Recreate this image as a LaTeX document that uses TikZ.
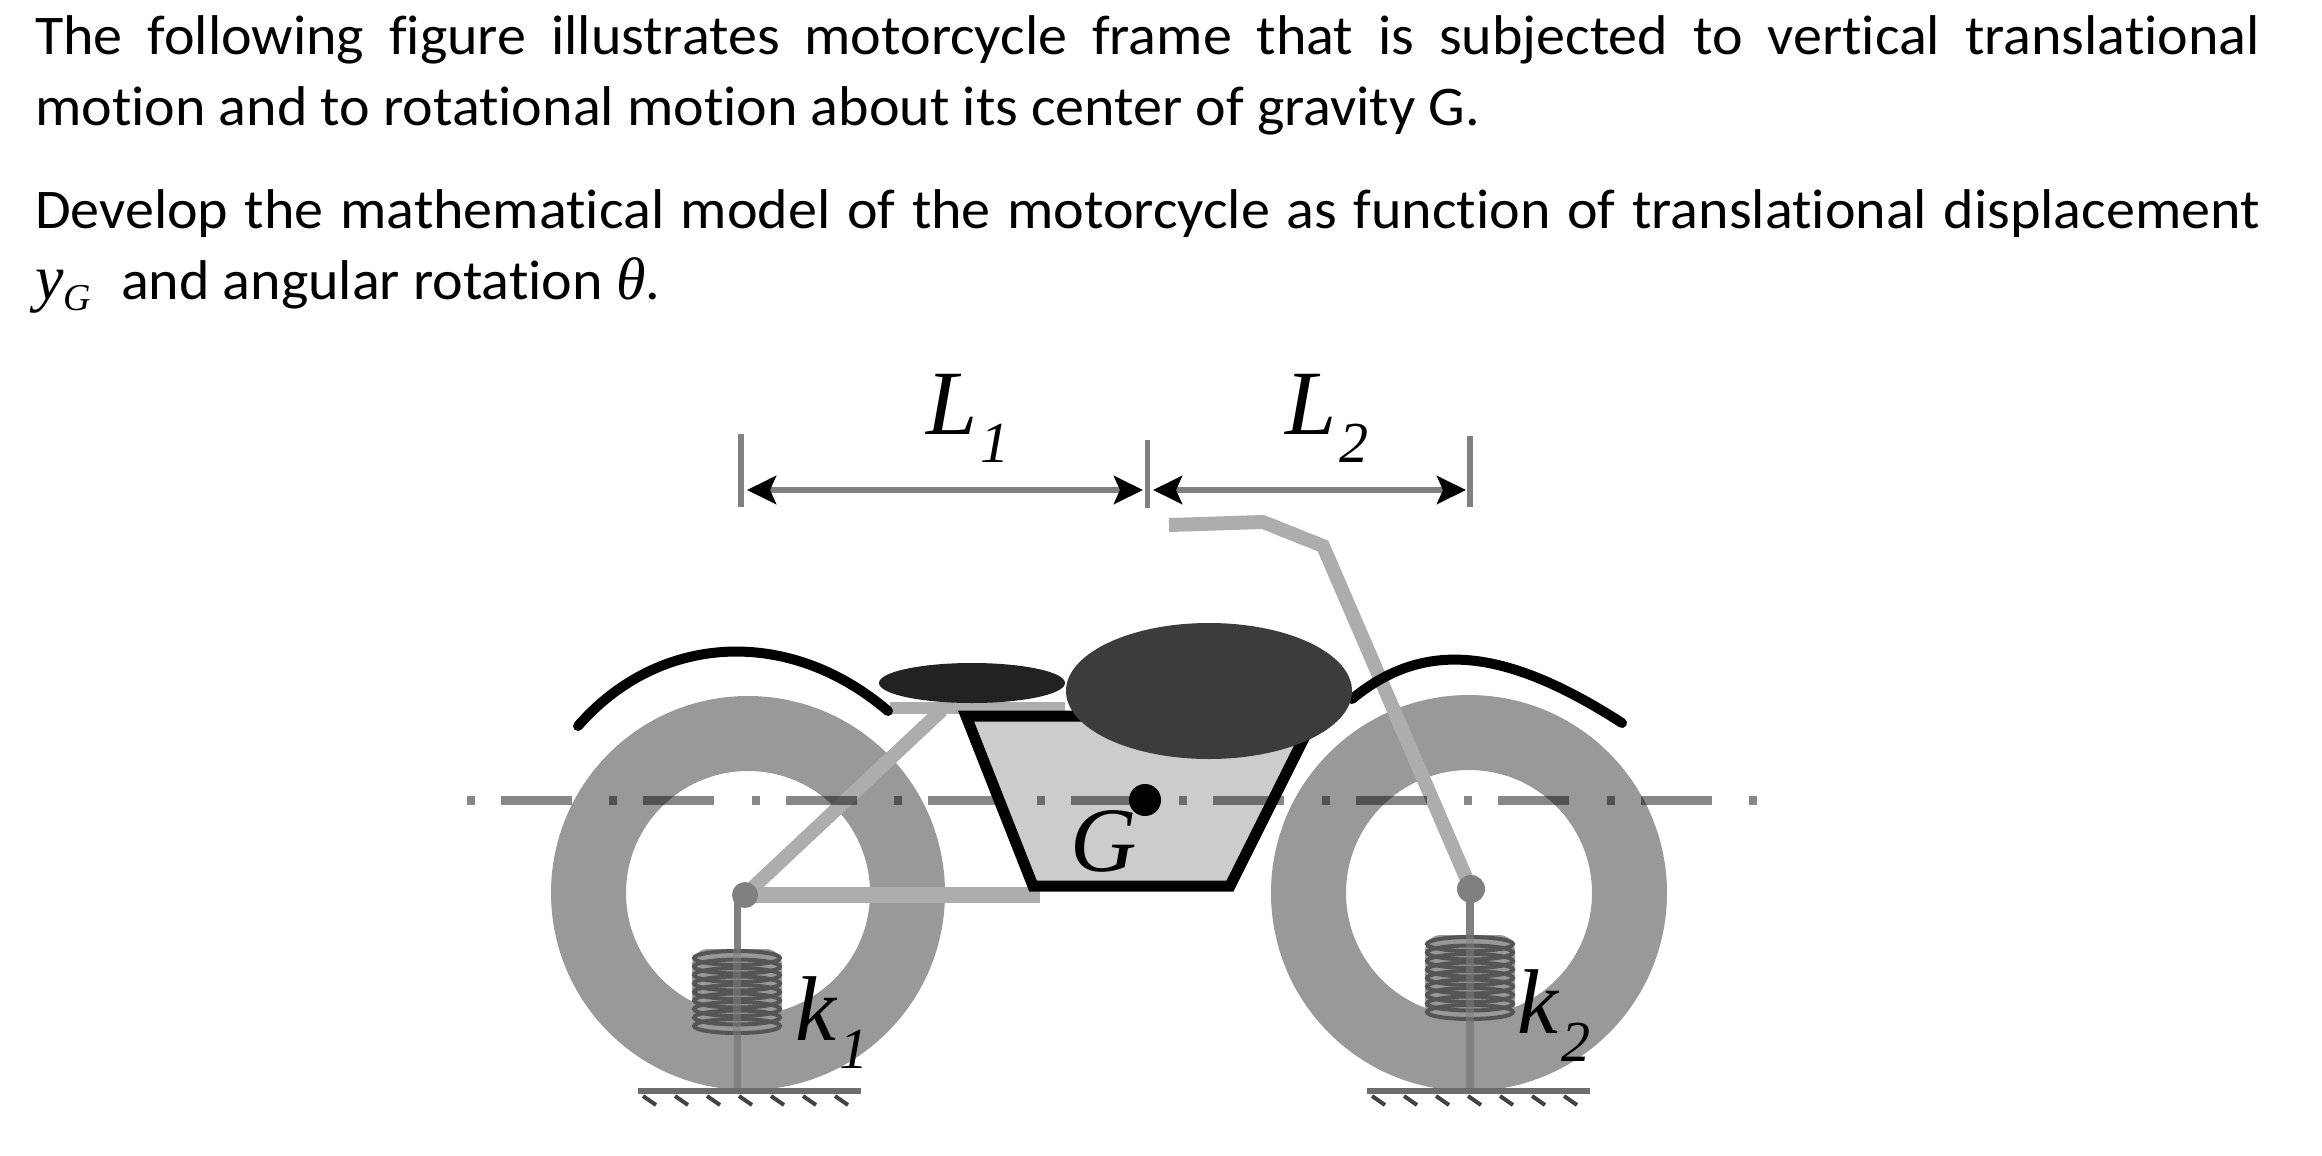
\documentclass[tikz,border=0pt]{standalone}
\usepackage{fontspec}
\setmainfont[FakeStretch=1.036,Ligatures=NoCommon]{Carlito}
\newfontfamily\serifit[ItalicFont={Liberation Serif Italic}]{Liberation Serif}
\usetikzlibrary{arrows.meta}
\definecolor{tyre}{HTML}{999999}
\definecolor{strut}{HTML}{ADADAD}
\definecolor{rod}{HTML}{808080}
\definecolor{framefill}{HTML}{CCCCCC}
\definecolor{tank}{HTML}{3C3C3C}
\definecolor{seat}{HTML}{222222}
\definecolor{coil}{HTML}{555555}
\newcommand{\symfont}{\serifit\itshape\fontsize{92}{92}\selectfont}
\newcommand{\subfont}{\serifit\itshape\fontsize{58}{58}\selectfont}
\newcommand{\symsub}[2]{{\symfont #1}\kern3pt\raisebox{-28pt}{\subfont #2}}
\tolerance=9999
\hyphenpenalty=10000
\tikzset{
  para/.style={anchor=north west,inner sep=0pt,text width=2225pt,align=justify,
    font=\fontsize{56}{71}\selectfont},
  symlabel/.style={anchor=base west,inner sep=0pt},
  tick/.style={draw=rod,line width=6pt},
  dimline/.style={draw=rod,line width=6.5pt,{Stealth[length=29pt,width=28pt,inset=6pt,black]}-{Stealth[length=29pt,width=28pt,inset=6pt,black]}},
  fender/.style={line width=10pt,line cap=round},
  bar/.style={draw=strut,line width=14pt},
  groundline/.style={draw=rod!85!black,line width=6pt},
  hatch/.style={draw=coil!80!black,line width=4pt}
}
\begin{document}
\begin{tikzpicture}[x=1pt,y=-1pt]
\useasboundingbox (0,0) rectangle (2322,1156);
% text
\node[para] (para1) at (35,15.5) {The following figure illustrates motorcycle frame that is subjected to vertical translational\linebreak motion and to rotational motion about its center of gravity G.};
\node[para] (para2) at (35,189.5) {Develop the mathematical model of the motorcycle as function of translational displacement\linebreak {\serifit\itshape\fontsize{64}{71}\selectfont y\raisebox{-11pt}{\fontsize{38}{38}\selectfont G}}\hspace{30pt}and angular rotation {\serifit\itshape\fontsize{60}{71}\selectfont θ}.};
% dimensions
\coordinate (tickA) at (741,434);
\coordinate (tickAb) at (741,507);
\coordinate (tickB) at (1147,440);
\coordinate (tickBb) at (1147,508);
\coordinate (tickC) at (1470,436);
\coordinate (tickCb) at (1470,507);
\coordinate (dimA) at (747,490);
\coordinate (dimB) at (1143,490);
\coordinate (dimC) at (1153,490);
\coordinate (dimD) at (1466,490);
\draw[tick] (tickA) -- (tickAb);
\draw[tick,line width=5pt] (tickB) -- (tickBb);
\draw[tick] (tickC) -- (tickCb);
\draw[dimline] (dimA) -- (dimB);
\draw[dimline] (dimC) -- (dimD);
\node[symlabel] (labelLa) at (926,434) {\symsub{L}{1}};
\node[symlabel] (labelLb) at (1285,434) {\symsub{L}{2}};
% wheels
\fill[tyre,even odd rule] (748,893) circle[radius=197pt] (748,893) circle[radius=122pt];
\fill[tyre,even odd rule] (1469,893) circle[radius=198pt] (1469,893) circle[radius=123pt];
% fork and struts
\coordinate (hubA) at (745,895);
\coordinate (hubB) at (1471,889);
\draw[bar,miter limit=4] (hubB) -- (1323,546) -- (1263,522) -- (1169,525);
\draw[bar] (hubA) -- (942,710);
\draw[bar,line width=16pt] (hubA) -- (1040,895);
\draw[bar,line width=12pt] (890,708) -- (1065,708);
% frame
\draw[fill=framefill,line width=11pt] (966,716) -- (1033,886) -- (1230,886) -- (1315,716) -- cycle;
% centre line
\draw[black,opacity=.47,line width=9pt,dash pattern=on 8pt off 26pt on 71pt off 37.5pt] (466.5,800) -- (1758,800);
% fenders
\draw[fender] (578,726) .. controls (660,632) and (790,627) .. (888,711);
\draw[fender] (1352,699) .. controls (1420,643) and (1498,643) .. (1622,723);
% seat and tank
\fill[seat] (972,683) ellipse[x radius=93pt,y radius=20pt];
\fill[tank] (1209,691) ellipse[x radius=143pt,y radius=68pt];
% rods, springs, ground
\coordinate (groundA) at (737,1091);
\coordinate (groundB) at (1470,1091);
\draw[rod,line width=7pt] (hubA -| groundA) -- (groundA);
\draw[rod,line width=8pt] (hubB -| groundB) -- (groundB);
\fill[rod] (hubA) circle[radius=13pt];
\fill[rod] (hubB) circle[radius=14pt];
\foreach \sx/\sy in {737/949, 1470/935} {
  \fill[tyre,rounded corners=16pt] (\sx-45,\sy) rectangle (\sx+45,\sy+86);
  \foreach \i in {0,...,8} {
    \draw[coil,line width=4pt] (\sx,\sy+9+\i*8.5) ellipse[x radius=43pt,y radius=7pt];
  }
  \fill[rod,opacity=.5] (\sx-4,\sy) rectangle (\sx+4,\sy+86);
}
\draw[groundline] (638,1091) -- (861,1091);
\draw[groundline] (1367,1091) -- (1590,1091);
\foreach \tx in {0,...,6} {
  \draw[hatch] (643+\tx*32,1096) -- (656+\tx*32,1105);
  \draw[hatch] (1372+\tx*32,1096) -- (1385+\tx*32,1105);
}
% centre of gravity
\fill (1145,800) circle[radius=16pt];
\node[symlabel] (labelG) at (1070,871) {\symfont G};
\node[symlabel] (labelka) at (795,1040) {\symsub{k}{1}};
\node[symlabel] (labelkb) at (1517,1033) {\symsub{k}{2}};
\end{tikzpicture}
\end{document}
